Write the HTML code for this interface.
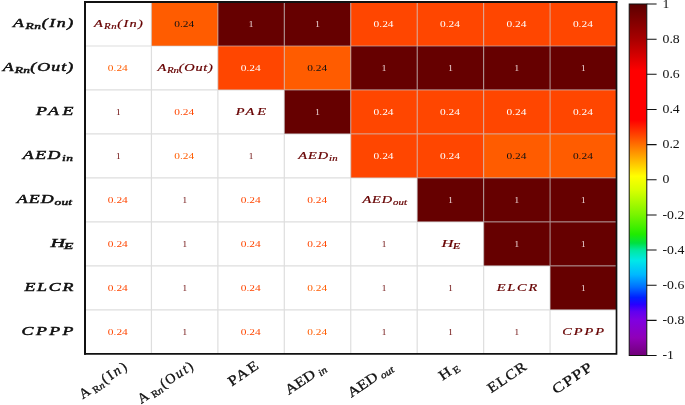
<!DOCTYPE html>
<html lang="en"><head><meta charset="utf-8"><title>Correlation matrix</title>
<style>html,body{margin:0;padding:0;background:#fff;overflow:hidden}svg{display:block}text{font-family:"Liberation Serif","DejaVu Serif",serif}</style></head><body>
<svg width="685" height="405" viewBox="0 0 685 405">
<defs><linearGradient id="cb" x1="0" y1="0" x2="0" y2="1">
<stop offset="0.0000" stop-color="#5c0000"/>
<stop offset="0.1000" stop-color="#a80000"/>
<stop offset="0.1900" stop-color="#ff0000"/>
<stop offset="0.3300" stop-color="#ff0000"/>
<stop offset="0.4900" stop-color="#ffff00"/>
<stop offset="0.5300" stop-color="#d8ff00"/>
<stop offset="0.6000" stop-color="#78f400"/>
<stop offset="0.6550" stop-color="#20ec00"/>
<stop offset="0.6800" stop-color="#00e040"/>
<stop offset="0.7000" stop-color="#00e8a0"/>
<stop offset="0.7300" stop-color="#00e8e8"/>
<stop offset="0.7700" stop-color="#00b8ff"/>
<stop offset="0.8050" stop-color="#0070ff"/>
<stop offset="0.8350" stop-color="#0020ff"/>
<stop offset="0.8550" stop-color="#2800ff"/>
<stop offset="0.8750" stop-color="#6000f0"/>
<stop offset="0.9000" stop-color="#8000e0"/>
<stop offset="0.9500" stop-color="#9000b8"/>
<stop offset="1.0000" stop-color="#700078"/>
</linearGradient></defs>
<rect width="685" height="405" fill="#fff"/>
<rect x="151.44" y="2.00" width="66.44" height="43.98" fill="#ff5c00"/>
<rect x="217.88" y="2.00" width="66.44" height="43.98" fill="#660000"/>
<rect x="284.31" y="2.00" width="66.44" height="43.98" fill="#660000"/>
<rect x="350.75" y="2.00" width="66.44" height="43.98" fill="#ff4600"/>
<rect x="417.19" y="2.00" width="66.44" height="43.98" fill="#ff4600"/>
<rect x="483.62" y="2.00" width="66.44" height="43.98" fill="#ff4600"/>
<rect x="550.06" y="2.00" width="66.44" height="43.98" fill="#ff4600"/>
<rect x="217.88" y="45.98" width="66.44" height="43.98" fill="#ff4600"/>
<rect x="284.31" y="45.98" width="66.44" height="43.98" fill="#ff5c00"/>
<rect x="350.75" y="45.98" width="66.44" height="43.98" fill="#660000"/>
<rect x="417.19" y="45.98" width="66.44" height="43.98" fill="#660000"/>
<rect x="483.62" y="45.98" width="66.44" height="43.98" fill="#660000"/>
<rect x="550.06" y="45.98" width="66.44" height="43.98" fill="#660000"/>
<rect x="284.31" y="89.95" width="66.44" height="43.98" fill="#660000"/>
<rect x="350.75" y="89.95" width="66.44" height="43.98" fill="#ff4600"/>
<rect x="417.19" y="89.95" width="66.44" height="43.98" fill="#ff4600"/>
<rect x="483.62" y="89.95" width="66.44" height="43.98" fill="#ff4600"/>
<rect x="550.06" y="89.95" width="66.44" height="43.98" fill="#ff4600"/>
<rect x="350.75" y="133.93" width="66.44" height="43.98" fill="#ff4600"/>
<rect x="417.19" y="133.93" width="66.44" height="43.98" fill="#ff4600"/>
<rect x="483.62" y="133.93" width="66.44" height="43.98" fill="#ff5c00"/>
<rect x="550.06" y="133.93" width="66.44" height="43.98" fill="#ff5c00"/>
<rect x="417.19" y="177.90" width="66.44" height="43.98" fill="#660000"/>
<rect x="483.62" y="177.90" width="66.44" height="43.98" fill="#660000"/>
<rect x="550.06" y="177.90" width="66.44" height="43.98" fill="#660000"/>
<rect x="483.62" y="221.88" width="66.44" height="43.98" fill="#660000"/>
<rect x="550.06" y="221.88" width="66.44" height="43.98" fill="#660000"/>
<rect x="550.06" y="265.85" width="66.44" height="43.98" fill="#660000"/>
<path d="M151.44 2.0V353.8M85.0 45.98H616.5M217.88 2.0V353.8M85.0 89.95H616.5M284.31 2.0V353.8M85.0 133.93H616.5M350.75 2.0V353.8M85.0 177.90H616.5M417.19 2.0V353.8M85.0 221.88H616.5M483.62 2.0V353.8M85.0 265.85H616.5M550.06 2.0V353.8M85.0 309.82H616.5" stroke="#c8c8c8" stroke-opacity="0.6" stroke-width="1.2" fill="none"/>
<path d="M85.0 353.8V2.0H616.5" stroke="#111" stroke-width="2" fill="none" stroke-linecap="square"/>
<path d="M85.0 353.8H616.5V2.0" stroke="#111" stroke-width="1.7" fill="none" stroke-linecap="square"/>
<text transform="translate(184.26 27.29) scale(1.31 1)" text-anchor="middle" font-size="8.7" fill="#111">0.24</text>
<text transform="translate(251.09 27.29) scale(1.05 1)" text-anchor="middle" font-size="8.7" fill="#f2e0e0">1</text>
<text transform="translate(317.53 27.29) scale(1.05 1)" text-anchor="middle" font-size="8.7" fill="#f2e0e0">1</text>
<text transform="translate(383.57 27.29) scale(1.31 1)" text-anchor="middle" font-size="8.7" fill="#fff">0.24</text>
<text transform="translate(450.01 27.29) scale(1.31 1)" text-anchor="middle" font-size="8.7" fill="#fff">0.24</text>
<text transform="translate(516.44 27.29) scale(1.31 1)" text-anchor="middle" font-size="8.7" fill="#fff">0.24</text>
<text transform="translate(582.88 27.29) scale(1.31 1)" text-anchor="middle" font-size="8.7" fill="#fff">0.24</text>
<text transform="translate(117.82 71.26) scale(1.31 1)" text-anchor="middle" font-size="8.7" fill="#ff5c00">0.24</text>
<text transform="translate(250.69 71.26) scale(1.31 1)" text-anchor="middle" font-size="8.7" fill="#fff">0.24</text>
<text transform="translate(317.13 71.26) scale(1.31 1)" text-anchor="middle" font-size="8.7" fill="#111">0.24</text>
<text transform="translate(383.97 71.26) scale(1.05 1)" text-anchor="middle" font-size="8.7" fill="#f2e0e0">1</text>
<text transform="translate(450.41 71.26) scale(1.05 1)" text-anchor="middle" font-size="8.7" fill="#f2e0e0">1</text>
<text transform="translate(516.84 71.26) scale(1.05 1)" text-anchor="middle" font-size="8.7" fill="#f2e0e0">1</text>
<text transform="translate(583.28 71.26) scale(1.05 1)" text-anchor="middle" font-size="8.7" fill="#f2e0e0">1</text>
<text transform="translate(118.22 115.24) scale(1.05 1)" text-anchor="middle" font-size="8.7" fill="#660000">1</text>
<text transform="translate(184.26 115.24) scale(1.31 1)" text-anchor="middle" font-size="8.7" fill="#ff4600">0.24</text>
<text transform="translate(317.53 115.24) scale(1.05 1)" text-anchor="middle" font-size="8.7" fill="#f2e0e0">1</text>
<text transform="translate(383.57 115.24) scale(1.31 1)" text-anchor="middle" font-size="8.7" fill="#fff">0.24</text>
<text transform="translate(450.01 115.24) scale(1.31 1)" text-anchor="middle" font-size="8.7" fill="#fff">0.24</text>
<text transform="translate(516.44 115.24) scale(1.31 1)" text-anchor="middle" font-size="8.7" fill="#fff">0.24</text>
<text transform="translate(582.88 115.24) scale(1.31 1)" text-anchor="middle" font-size="8.7" fill="#fff">0.24</text>
<text transform="translate(118.22 159.21) scale(1.05 1)" text-anchor="middle" font-size="8.7" fill="#660000">1</text>
<text transform="translate(184.26 159.21) scale(1.31 1)" text-anchor="middle" font-size="8.7" fill="#ff5c00">0.24</text>
<text transform="translate(251.09 159.21) scale(1.05 1)" text-anchor="middle" font-size="8.7" fill="#660000">1</text>
<text transform="translate(383.57 159.21) scale(1.31 1)" text-anchor="middle" font-size="8.7" fill="#fff">0.24</text>
<text transform="translate(450.01 159.21) scale(1.31 1)" text-anchor="middle" font-size="8.7" fill="#fff">0.24</text>
<text transform="translate(516.44 159.21) scale(1.31 1)" text-anchor="middle" font-size="8.7" fill="#111">0.24</text>
<text transform="translate(582.88 159.21) scale(1.31 1)" text-anchor="middle" font-size="8.7" fill="#111">0.24</text>
<text transform="translate(117.82 203.19) scale(1.31 1)" text-anchor="middle" font-size="8.7" fill="#ff4600">0.24</text>
<text transform="translate(184.66 203.19) scale(1.05 1)" text-anchor="middle" font-size="8.7" fill="#660000">1</text>
<text transform="translate(250.69 203.19) scale(1.31 1)" text-anchor="middle" font-size="8.7" fill="#ff4600">0.24</text>
<text transform="translate(317.13 203.19) scale(1.31 1)" text-anchor="middle" font-size="8.7" fill="#ff4600">0.24</text>
<text transform="translate(450.41 203.19) scale(1.05 1)" text-anchor="middle" font-size="8.7" fill="#f2e0e0">1</text>
<text transform="translate(516.84 203.19) scale(1.05 1)" text-anchor="middle" font-size="8.7" fill="#f2e0e0">1</text>
<text transform="translate(583.28 203.19) scale(1.05 1)" text-anchor="middle" font-size="8.7" fill="#f2e0e0">1</text>
<text transform="translate(117.82 247.16) scale(1.31 1)" text-anchor="middle" font-size="8.7" fill="#ff4600">0.24</text>
<text transform="translate(184.66 247.16) scale(1.05 1)" text-anchor="middle" font-size="8.7" fill="#660000">1</text>
<text transform="translate(250.69 247.16) scale(1.31 1)" text-anchor="middle" font-size="8.7" fill="#ff4600">0.24</text>
<text transform="translate(317.13 247.16) scale(1.31 1)" text-anchor="middle" font-size="8.7" fill="#ff4600">0.24</text>
<text transform="translate(383.97 247.16) scale(1.05 1)" text-anchor="middle" font-size="8.7" fill="#660000">1</text>
<text transform="translate(516.84 247.16) scale(1.05 1)" text-anchor="middle" font-size="8.7" fill="#f2e0e0">1</text>
<text transform="translate(583.28 247.16) scale(1.05 1)" text-anchor="middle" font-size="8.7" fill="#f2e0e0">1</text>
<text transform="translate(117.82 291.14) scale(1.31 1)" text-anchor="middle" font-size="8.7" fill="#ff4600">0.24</text>
<text transform="translate(184.66 291.14) scale(1.05 1)" text-anchor="middle" font-size="8.7" fill="#660000">1</text>
<text transform="translate(250.69 291.14) scale(1.31 1)" text-anchor="middle" font-size="8.7" fill="#ff4600">0.24</text>
<text transform="translate(317.13 291.14) scale(1.31 1)" text-anchor="middle" font-size="8.7" fill="#ff5c00">0.24</text>
<text transform="translate(383.97 291.14) scale(1.05 1)" text-anchor="middle" font-size="8.7" fill="#660000">1</text>
<text transform="translate(450.41 291.14) scale(1.05 1)" text-anchor="middle" font-size="8.7" fill="#660000">1</text>
<text transform="translate(583.28 291.14) scale(1.05 1)" text-anchor="middle" font-size="8.7" fill="#f2e0e0">1</text>
<text transform="translate(117.82 335.11) scale(1.31 1)" text-anchor="middle" font-size="8.7" fill="#ff4600">0.24</text>
<text transform="translate(184.66 335.11) scale(1.05 1)" text-anchor="middle" font-size="8.7" fill="#660000">1</text>
<text transform="translate(250.69 335.11) scale(1.31 1)" text-anchor="middle" font-size="8.7" fill="#ff4600">0.24</text>
<text transform="translate(317.13 335.11) scale(1.31 1)" text-anchor="middle" font-size="8.7" fill="#ff5c00">0.24</text>
<text transform="translate(383.97 335.11) scale(1.05 1)" text-anchor="middle" font-size="8.7" fill="#660000">1</text>
<text transform="translate(450.41 335.11) scale(1.05 1)" text-anchor="middle" font-size="8.7" fill="#660000">1</text>
<text transform="translate(516.84 335.11) scale(1.05 1)" text-anchor="middle" font-size="8.7" fill="#660000">1</text>
<text class="dg" transform="translate(142.80 27.19) scale(1.440 1)" text-anchor="end" font-size="10" font-style="italic" fill="#660000" stroke="#660000" stroke-width="0.2" textLength="33.89" lengthAdjust="spacing">A<tspan font-size="7.5" dy="1.9" letter-spacing="-0.5">Rn</tspan><tspan dy="-1.9">(In)</tspan></text>
<text class="dg" transform="translate(212.80 71.16) scale(1.440 1)" text-anchor="end" font-size="10" font-style="italic" fill="#660000" stroke="#660000" stroke-width="0.2" textLength="38.47" lengthAdjust="spacing">A<tspan font-size="7.5" dy="1.9" letter-spacing="-0.5">Rn</tspan><tspan dy="-1.9">(Out)</tspan></text>
<text class="dg" transform="translate(266.00 115.14) scale(1.440 1)" text-anchor="end" font-size="10" font-style="italic" fill="#660000" stroke="#660000" stroke-width="0.2" textLength="20.97" lengthAdjust="spacing">PAE</text>
<text class="dg" transform="translate(337.00 159.11) scale(1.440 1)" text-anchor="end" font-size="10" font-style="italic" fill="#660000" stroke="#660000" stroke-width="0.2" textLength="26.94" lengthAdjust="spacing">AED<tspan font-size="7.5" dy="1.9" letter-spacing="-0.5">in</tspan></text>
<text class="dg" transform="translate(406.20 203.09) scale(1.440 1)" text-anchor="end" font-size="10" font-style="italic" fill="#660000" stroke="#660000" stroke-width="0.2" textLength="30.42" lengthAdjust="spacing">AED<tspan font-size="7.5" dy="1.9" letter-spacing="-0.5">out</tspan></text>
<text class="dg" transform="translate(459.40 247.06) scale(1.642 1)" text-anchor="end" font-size="10" font-style="italic" fill="#660000" stroke="#660000" stroke-width="0.2" textLength="10.96" lengthAdjust="spacing">H<tspan font-size="7.5" dy="1.9" letter-spacing="-0.5">E</tspan></text>
<text class="dg" transform="translate(537.20 291.04) scale(1.440 1)" text-anchor="end" font-size="10" font-style="italic" fill="#660000" stroke="#660000" stroke-width="0.2" textLength="28.06" lengthAdjust="spacing">ELCR</text>
<text class="dg" transform="translate(604.00 335.01) scale(1.440 1)" text-anchor="end" font-size="10" font-style="italic" fill="#660000" stroke="#660000" stroke-width="0.2" textLength="29.03" lengthAdjust="spacing">CPPP</text>
<text class="yl" transform="translate(73.20 26.70) scale(1.460 1)" text-anchor="end" font-size="12.2" font-style="italic" fill="#111" stroke="#111" stroke-width="0.5" textLength="41.23" lengthAdjust="spacing">A<tspan font-size="9.2" dy="2.4" letter-spacing="-0.6">Rn</tspan><tspan dy="-2.4">(In)</tspan></text>
<text class="yl" transform="translate(73.20 70.70) scale(1.460 1)" text-anchor="end" font-size="12.2" font-style="italic" fill="#111" stroke="#111" stroke-width="0.5" textLength="48.22" lengthAdjust="spacing">A<tspan font-size="9.2" dy="2.4" letter-spacing="-0.6">Rn</tspan><tspan dy="-2.4">(Out)</tspan></text>
<text class="yl" transform="translate(73.40 114.90) scale(1.460 1)" text-anchor="end" font-size="12.2" font-style="italic" fill="#111" stroke="#111" stroke-width="0.5" textLength="25.62" lengthAdjust="spacing">PAE</text>
<text class="yl" transform="translate(72.20 158.90) scale(1.460 1)" text-anchor="end" font-size="12.2" font-style="italic" fill="#111" stroke="#111" stroke-width="0.5" textLength="33.84" lengthAdjust="spacing">AED<tspan font-size="9.2" dy="2.4" letter-spacing="-0.6">in</tspan></text>
<text class="yl" transform="translate(71.20 202.90) scale(1.460 1)" text-anchor="end" font-size="12.2" font-style="italic" fill="#111" stroke="#111" stroke-width="0.5" textLength="37.26" lengthAdjust="spacing">AED<tspan font-size="9.2" dy="2.4" letter-spacing="-0.6">out</tspan></text>
<text class="yl" transform="translate(72.40 246.70) scale(1.664 1)" text-anchor="end" font-size="12.2" font-style="italic" fill="#111" stroke="#111" stroke-width="0.5" textLength="13.22" lengthAdjust="spacing">H<tspan font-size="9.2" dy="2.4" letter-spacing="-0.6">E</tspan></text>
<text class="yl" transform="translate(73.40 291.10) scale(1.460 1)" text-anchor="end" font-size="12.2" font-style="italic" fill="#111" stroke="#111" stroke-width="0.5" textLength="33.56" lengthAdjust="spacing">ELCR</text>
<text class="yl" transform="translate(73.40 334.90) scale(1.460 1)" text-anchor="end" font-size="12.2" font-style="italic" fill="#111" stroke="#111" stroke-width="0.5" textLength="35.48" lengthAdjust="spacing">CPPP</text>
<g class="xl" transform="translate(82.70 399.20) rotate(-34)" fill="#111" stroke="#111" stroke-width="0.3">
<text x="0" y="0" font-size="14" textLength="10.40" lengthAdjust="spacingAndGlyphs">A</text>
<text x="13.6" y="2.5" font-size="9.8" textLength="12.40" lengthAdjust="spacingAndGlyphs">R<tspan font-style="italic">n</tspan></text>
<text x="27.0" y="0" font-size="14" textLength="27.40" lengthAdjust="spacing">(I<tspan font-style="italic">n</tspan>)</text>
</g>
<g class="xl" transform="translate(141.30 403.90) rotate(-34)" fill="#111" stroke="#111" stroke-width="0.3">
<text x="0" y="0" font-size="14" textLength="10.40" lengthAdjust="spacingAndGlyphs">A</text>
<text x="13.6" y="2.5" font-size="9.8" textLength="12.40" lengthAdjust="spacingAndGlyphs">R<tspan font-style="italic">n</tspan></text>
<text x="27.0" y="0" font-size="14" textLength="36.60" lengthAdjust="spacing">(O<tspan font-style="italic">ut</tspan>)</text>
</g>
<text class="xl" transform="translate(259.32 367.89) rotate(-34) scale(1.188 1)" text-anchor="end" font-size="14" fill="#111" stroke="#111" stroke-width="0.3" textLength="27.88" lengthAdjust="spacing">PAE</text>
<g class="xl" transform="translate(288.90 394.90) rotate(-34)" fill="#111" stroke="#111" stroke-width="0.3">
<text x="-0.3" y="0" font-size="14" textLength="33.60" lengthAdjust="spacingAndGlyphs">AED</text>
<text x="36.7" y="2.4" font-size="9.8" textLength="8.80" lengthAdjust="spacingAndGlyphs"><tspan font-style="italic">in</tspan></text>
</g>
<g class="xl" transform="translate(351.40 397.60) rotate(-34)" fill="#111" stroke="#111" stroke-width="0.3">
<text x="-0.3" y="0" font-size="14" textLength="33.60" lengthAdjust="spacingAndGlyphs">AED</text>
<text x="36.2" y="2.4" font-size="9.8" textLength="14.70" lengthAdjust="spacingAndGlyphs"><tspan font-style="italic">out</tspan></text>
</g>
<g class="xl" transform="translate(443.00 380.40) rotate(-34)" fill="#111" stroke="#111" stroke-width="0.3">
<text x="-0.6" y="0" font-size="14" textLength="12.00" lengthAdjust="spacingAndGlyphs">H</text>
<text x="13.6" y="2.1" font-size="9.8" textLength="7.00" lengthAdjust="spacingAndGlyphs">E</text>
</g>
<text class="xl" transform="translate(527.24 368.95) rotate(-34) scale(1.133 1)" text-anchor="end" font-size="14" fill="#111" stroke="#111" stroke-width="0.3" textLength="38.20" lengthAdjust="spacing">ELCR</text>
<text class="xl" transform="translate(593.01 369.49) rotate(-34) scale(1.254 1)" text-anchor="end" font-size="14" fill="#111" stroke="#111" stroke-width="0.3" textLength="35.70" lengthAdjust="spacing">CPPP</text>
<rect x="629.2" y="4.0" width="17.60" height="351.50" fill="url(#cb)" stroke="#111" stroke-width="1"/>
<text class="cb" transform="translate(662.5 7.60) scale(1.2 1)" font-size="11.5" fill="#111">1</text>
<text class="cb" transform="translate(662.5 42.75) scale(1.2 1)" font-size="11.5" fill="#111">0.8</text>
<text class="cb" transform="translate(662.5 77.90) scale(1.2 1)" font-size="11.5" fill="#111">0.6</text>
<text class="cb" transform="translate(662.5 113.05) scale(1.2 1)" font-size="11.5" fill="#111">0.4</text>
<text class="cb" transform="translate(662.5 148.20) scale(1.2 1)" font-size="11.5" fill="#111">0.2</text>
<text class="cb" transform="translate(662.5 183.35) scale(1.2 1)" font-size="11.5" fill="#111">0</text>
<text class="cb" transform="translate(662.5 218.50) scale(1.2 1)" font-size="11.5" fill="#111">-0.2</text>
<text class="cb" transform="translate(662.5 253.65) scale(1.2 1)" font-size="11.5" fill="#111">-0.4</text>
<text class="cb" transform="translate(662.5 288.80) scale(1.2 1)" font-size="11.5" fill="#111">-0.6</text>
<text class="cb" transform="translate(662.5 323.95) scale(1.2 1)" font-size="11.5" fill="#111">-0.8</text>
<text class="cb" transform="translate(662.5 359.10) scale(1.2 1)" font-size="11.5" fill="#111">-1</text>
<path d="M646.8 4.00H656.6M646.8 39.15H656.6M646.8 74.30H656.6M646.8 109.45H656.6M646.8 144.60H656.6M646.8 179.75H656.6M646.8 214.90H656.6M646.8 250.05H656.6M646.8 285.20H656.6M646.8 320.35H656.6M646.8 355.50H656.6" stroke="#111" stroke-width="1.05" fill="none"/>
</svg></body></html>
